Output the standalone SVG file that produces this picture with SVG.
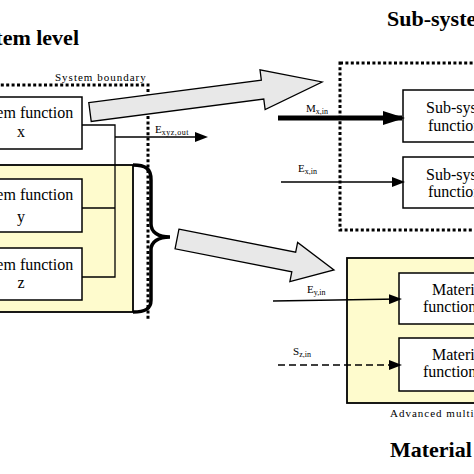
<svg xmlns="http://www.w3.org/2000/svg" width="474" height="474" viewBox="0 0 474 474">
<style>
  .head { font-family: "Liberation Serif", "Times New Roman", serif; font-weight: bold; font-size: 22px; fill: #000; }
  .lbl { font-family: "Liberation Serif", "Times New Roman", serif; font-size: 16px; fill: #000; }
  .small { font-family: "Liberation Serif", "Times New Roman", serif; font-size: 11px; letter-spacing: 1px; fill: #000; }
  .sub { font-family: "Liberation Serif", "Times New Roman", serif; font-size: 11px; fill: #000; }
  .box { fill: #fff; stroke: #000; stroke-width: 1.5; }
  .yellow { fill: #fefbcd; stroke: #000; stroke-width: 1.8; }
  .dotted { fill: none; stroke: #000; stroke-width: 3; stroke-dasharray: 3 2.4; }
  .wire { fill: none; stroke: #000; stroke-width: 1.3; }
  .big { fill: #e8e8e8; stroke: #000; stroke-width: 1.3; stroke-linejoin: miter; }
</style>
<defs>
  <marker id="ah" markerUnits="userSpaceOnUse" markerWidth="13" markerHeight="10" refX="10" refY="5" orient="auto">
    <path d="M0,0 L13,5 L0,10 z" fill="#000"/>
  </marker>
  <marker id="ahBig" markerUnits="userSpaceOnUse" markerWidth="22" markerHeight="14" refX="19" refY="7" orient="auto">
    <path d="M0,0 L22,7 L0,14 z" fill="#000"/>
  </marker>
</defs>
<rect width="474" height="474" fill="#fff"/>

<!-- headings -->
<text class="head" x="79" y="45" text-anchor="end">System level</text>
<text class="head" x="387" y="26">Sub-system level</text>
<text class="head" x="390" y="457">Material level</text>

<!-- boundaries -->
<g id="system-boundary">
  <polyline class="dotted" points="-10,85 148,85 148,320"/>
  <text class="small" x="55" y="81">System boundary</text>
</g>
<g id="subsystem-boundary">
  <rect class="dotted" x="340" y="63" width="220" height="167"/>
</g>

<!-- system level -->
<g id="system-x">
  <rect class="box" x="-40" y="97" width="122" height="52"/>
  <text class="lbl" x="21" y="118" text-anchor="middle">System function</text>
  <text class="lbl" x="21" y="137" text-anchor="middle">x</text>
</g>
<g id="yellow-group">
  <rect class="yellow" x="-55" y="165" width="188" height="147"/>
</g>
<g id="system-y">
  <rect class="box" x="-40" y="179" width="122" height="53"/>
  <text class="lbl" x="21" y="200" text-anchor="middle">System function</text>
  <text class="lbl" x="21" y="222" text-anchor="middle">y</text>
</g>
<g id="system-z">
  <rect class="box" x="-40" y="248" width="122" height="52"/>
  <text class="lbl" x="21" y="270" text-anchor="middle">System function</text>
  <text class="lbl" x="21" y="288" text-anchor="middle">z</text>
</g>
<g id="brace">
  <path d="M133,165 C145,165 151,168 151,180 L151,224 C151,232 158,237 170,237 C158,237 151,242 151,250 L151,300 C151,309 145,312 133,312" fill="none" stroke="#000" stroke-width="3.5"/>
</g>

<!-- sub-system level -->
<g id="subsystem-1">
  <rect class="box" x="403" y="90" width="120" height="52"/>
  <text class="lbl" x="426" y="113">Sub-system</text>
  <text class="lbl" x="428" y="131">function x</text>
</g>
<g id="subsystem-2">
  <rect class="box" x="403" y="157" width="120" height="51"/>
  <text class="lbl" x="426" y="180">Sub-system</text>
  <text class="lbl" x="428" y="197">function x</text>
</g>

<!-- material level -->
<g id="material-group">
  <rect class="yellow" x="347" y="258" width="200" height="145"/>
  <text class="small" x="390" y="417">Advanced multi-material</text>
</g>
<g id="material-1">
  <rect class="box" x="399" y="273" width="120" height="51"/>
  <text class="lbl" x="432" y="295">Material</text>
  <text class="lbl" x="423" y="312">function y</text>
</g>
<g id="material-2">
  <rect class="box" x="399" y="338" width="120" height="53"/>
  <text class="lbl" x="432" y="360">Material</text>
  <text class="lbl" x="423" y="377">function z</text>
</g>

<!-- connectors -->
<g id="connectors">
  <polyline class="wire" points="82,125 115,125 115,277 82,277"/>
  <line class="wire" x1="82" y1="208" x2="115" y2="208"/>
  <line class="wire" x1="115" y1="137" x2="205" y2="137" marker-end="url(#ah)"/>
  <text class="sub" x="155" y="133">E<tspan font-size="8" dy="2" letter-spacing="0.5">xyz,out</tspan></text>

  <polygon class="big" transform="translate(90,112) rotate(-7.37)" points="0,-9.5 174,-9.5 174,-20 234,0 174,20 174,9.5 0,9.5"/>
  <polygon class="big" transform="translate(177,239) rotate(11.17)" points="0,-10 119,-10 119,-20 160,0 119,20 119,10 0,10"/>

  <line x1="278" y1="118" x2="402" y2="118" stroke="#000" stroke-width="5" marker-end="url(#ahBig)"/>
  <text class="sub" x="306" y="112">M<tspan font-size="8" dy="2">x,in</tspan></text>

  <line class="wire" x1="281" y1="182" x2="402" y2="182" marker-end="url(#ah)"/>
  <text class="sub" x="298" y="172">E<tspan font-size="8" dy="2">x,in</tspan></text>

  <line class="wire" x1="273" y1="301" x2="399" y2="299" marker-end="url(#ah)"/>
  <text class="sub" x="307" y="293">E<tspan font-size="8" dy="2">y,in</tspan></text>

  <line class="wire" x1="278" y1="365" x2="399" y2="365" stroke-dasharray="7 4" marker-end="url(#ah)"/>
  <text class="sub" x="293" y="355">S<tspan font-size="8" dy="2">z,in</tspan></text>
</g>
</svg>
